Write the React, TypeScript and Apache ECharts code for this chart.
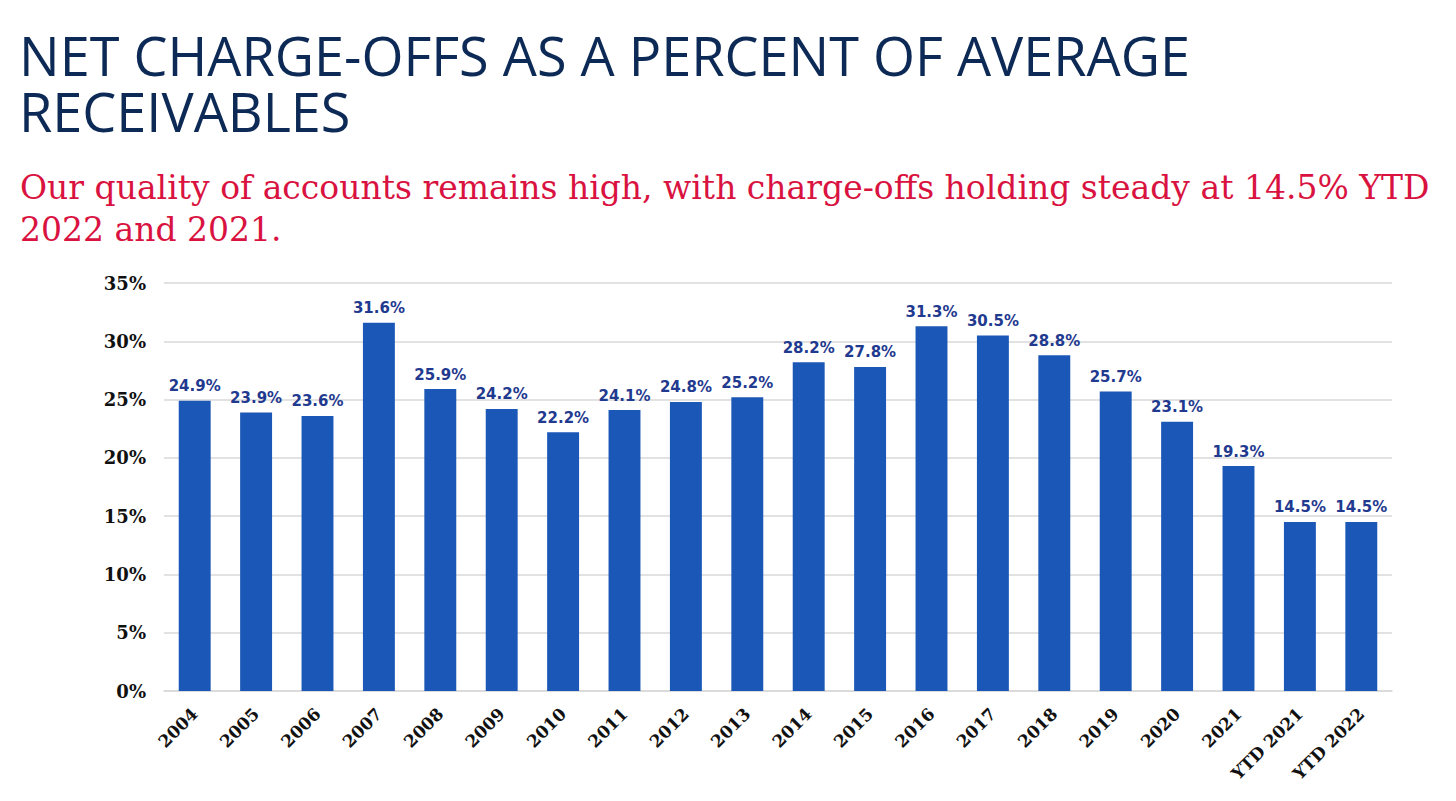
import React, { useEffect, useRef } from "react";
import * as echarts from "echarts";

const categories = ["2004", "2005", "2006", "2007", "2008", "2009", "2010", "2011", "2012", "2013", "2014", "2015", "2016", "2017", "2018", "2019", "2020", "2021", "YTD 2021", "YTD 2022"];
const chargeOffPct = [24.9, 23.9, 23.6, 31.6, 25.9, 24.2, 22.2, 24.1, 24.8, 25.2, 28.2, 27.8, 31.3, 30.5, 28.8, 25.7, 23.1, 19.3, 14.5, 14.5];
const titleLines = ["NET CHARGE-OFFS AS A PERCENT OF AVERAGE", "RECEIVABLES"];
const subtitleLines = ["Our quality of accounts remains high, with charge-offs holding steady at 14.5% YTD", "2022 and 2021."];

export default function App() {
  const ref = useRef<HTMLDivElement>(null);
  useEffect(() => {
    document.body.style.margin = "0";
    const chart = echarts.init(ref.current!, null, { renderer: "svg" });
    chart.setOption({
      animation: false,
      backgroundColor: "#ffffff",
      graphic: [
        {
          type: "text",
          left: 19,
          top: 27,
          style: { text: titleLines.join("\n"), fill: "#0c2a55", font: "54px 'Open Sans', sans-serif", lineHeight: 56 },
        },
        {
          type: "text",
          left: 20,
          top: 166,
          style: { text: subtitleLines.join("\n"), fill: "#d9123f", font: "33px 'DejaVu Serif', serif", lineHeight: 42 },
        },
      ],
      grid: { left: 164, right: 64, top: 283, bottom: 110, containLabel: false },
      xAxis: {
        type: "category",
        data: categories,
        axisLine: { lineStyle: { color: "#d9d9d9", width: 1.5 } },
        axisTick: { show: false },
        axisLabel: {
          rotate: 45,
          interval: 0,
          margin: 20,
          color: "#111111",
          fontFamily: "'DejaVu Serif', serif",
          fontWeight: "bold",
          fontSize: 17,
        },
      },
      yAxis: {
        type: "value",
        min: 0,
        max: 35,
        interval: 5,
        axisLine: { show: false },
        axisTick: { show: false },
        splitLine: { lineStyle: { color: "#d9d9d9", width: 1.5 } },
        axisLabel: {
          formatter: "{value}%",
          margin: 18,
          color: "#111111",
          fontFamily: "'DejaVu Serif', serif",
          fontWeight: "bold",
          fontSize: 18,
        },
      },
      series: [
        {
          type: "bar",
          data: chargeOffPct,
          barWidth: "52%",
          itemStyle: { color: "#1b57b6" },
          label: {
            show: true,
            position: "top",
            distance: 7,
            formatter: (p: any) => `${p.value.toFixed(1)}%`,
            color: "#1f3a8f",
            fontFamily: "'DejaVu Sans', sans-serif",
            fontWeight: "bold",
            fontSize: 15,
          },
        },
      ],
    });
    return () => chart.dispose();
  }, []);
  return <div ref={ref} style={{ width: 1456, height: 801 }} />;
}
